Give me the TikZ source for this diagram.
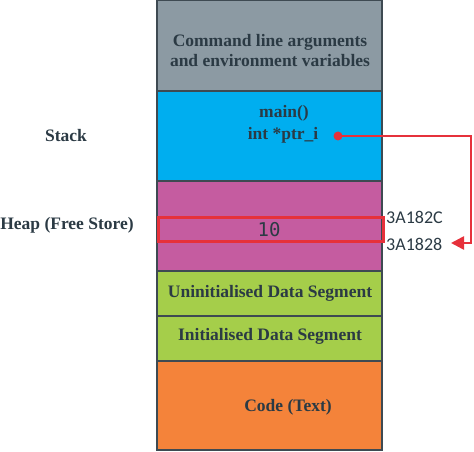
\documentclass[tikz,border=0pt]{standalone}
\usepackage{fontspec}
\setmainfont{Liberation Serif}
\newfontfamily\labfont{Carlito}
\newfontfamily\monofnt{DejaVu Sans Mono}
\usetikzlibrary{arrows.meta}
\definecolor{segedge}{HTML}{3E4A52}
\definecolor{txt}{HTML}{2B3A44}
\definecolor{cgray}{HTML}{8C9AA3}
\definecolor{cblue}{HTML}{00AEEF}
\definecolor{cmag}{HTML}{C55CA0}
\definecolor{cgreen}{HTML}{A5CE4A}
\definecolor{corange}{HTML}{F4833A}
\definecolor{cred}{HTML}{E6313B}
\begin{document}
\begin{tikzpicture}[x=1bp,y=-1bp,
  seg/.style={draw=segedge,line width=1.4bp,anchor=north west,minimum width=225bp,inner sep=0pt,outer sep=0pt},
  btxt/.style={font=\fontsize{17.5bp}{20bp}\selectfont\bfseries,text=txt,inner sep=0pt,align=center},
  addr/.style={font=\labfont\fontsize{18bp}{20bp}\selectfont,text=txt,inner sep=0pt,anchor=west},
  redl/.style={draw=cred,line width=2.6bp}]
\useasboundingbox (0,0) rectangle (474,452);
\node[seg,fill=cgray,minimum height=91bp] (args) at (157,0) {};
\node[seg,fill=cblue,minimum height=90bp] (stack) at (157,91) {};
\node[seg,fill=cmag,minimum height=90bp] (heap) at (157,181) {};
\node[seg,fill=cgreen,minimum height=45bp] (bss) at (157,271) {};
\node[seg,fill=cgreen,minimum height=45bp] (data) at (157,316) {};
\node[seg,fill=corange,minimum height=89bp] (code) at (157,361) {};
% heap cell
\node[draw=cred,line width=2.6bp,anchor=north west,minimum width=225bp,minimum height=24bp,inner sep=0pt] (cell) at (157,216) {};
\node[font=\monofnt\fontsize{19bp}{20bp}\selectfont,text=txt,inner sep=0pt] (ten) at (269,230) {10};
% texts
\node[btxt] (t1) at (270,42) {Command line arguments};
\node[btxt] (t2) at (270,61) {and environment variables};
\node[btxt] (t3) at (284,113) {main()};
\node[btxt] (t4) at (283,135) {int *ptr\_i};
\node[btxt] (t5) at (270,293) {Uninitialised Data Segment};
\node[btxt] (t6) at (270,336) {Initialised Data Segment};
\node[btxt] (t7) at (288,407) {Code (Text)};
\node[btxt] (stk) at (66,136) {Stack};
\node[btxt] (hp) at (67,225) {Heap (Free Store)};
% addresses
\node[addr] (a1) at (386,217) {3A182C};
\node[addr] (a2) at (386,244) {3A1828};
% pointer arrow
\node[circle,fill=cred,inner sep=0pt,minimum size=9bp] (dot) at (338,136) {};
\coordinate (turn) at (471,243);
\coordinate (tip) at (451,243);
\draw[redl,-{Triangle[length=13bp,width=13bp]}] (dot.center) -| (turn) -- (tip);
\end{tikzpicture}
\end{document}
